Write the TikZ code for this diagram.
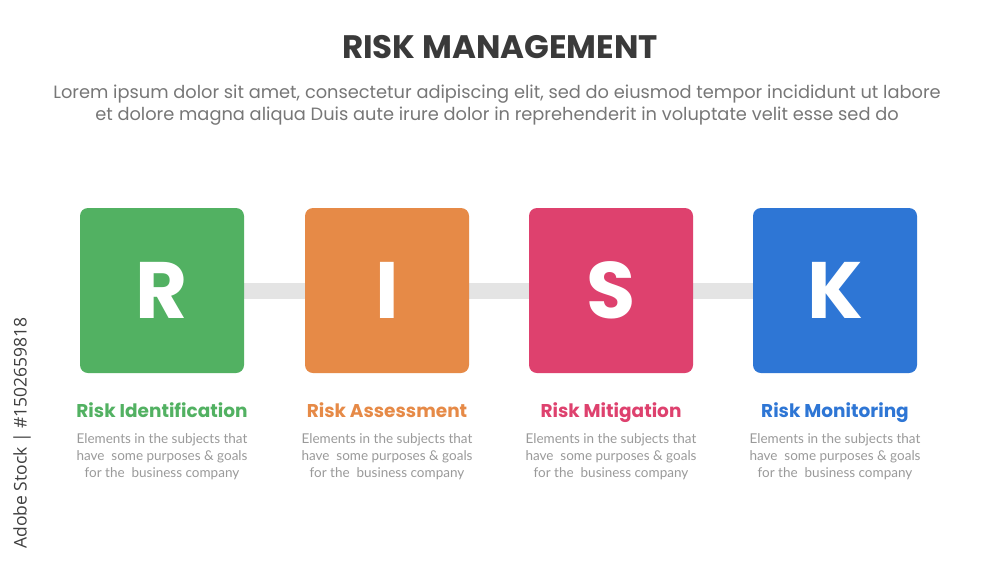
\documentclass[tikz,border=0pt]{standalone}
\usepackage{fontspec}
\setmainfont{Poppins}
\newfontfamily\lato{Lato}
\newfontfamily\opensans{Open Sans}
\definecolor{cgreen}{HTML}{52B162}
\definecolor{corange}{HTML}{E68A47}
\definecolor{cpink}{HTML}{DE416E}
\definecolor{cblue}{HTML}{2E76D5}
\definecolor{cbar}{HTML}{E4E4E4}
\definecolor{ctitle}{HTML}{3A3A3A}
\definecolor{csub}{HTML}{777777}
\definecolor{cdesc}{HTML}{9A9A9A}
\definecolor{cwm}{HTML}{3F3F3F}
\tikzset{
  letterbox/.style={fill=#1, rounded corners=8pt, minimum width=164pt, minimum height=165pt, inner sep=0pt, text=white, font=\fontsize{80}{80}\selectfont\bfseries},
  steplabel/.style={text=#1, font=\fontsize{18.5}{20}\selectfont\bfseries, inner sep=0pt, anchor=base},
  desctext/.style={text=cdesc, font=\lato\fontsize{13.5}{17}\selectfont, align=center, inner sep=0pt},
}
\begin{document}
\begin{tikzpicture}[x=1pt,y=-1pt]
\useasboundingbox[fill=white] (0,0) rectangle (1000,563);
% connector bar
\fill[cbar] (162,283) rectangle (835,299);
\node[letterbox=cgreen]  (b1) at (162,290.5) {R};
\node[letterbox=corange] (b2) at (387,290.5) {I};
\node[letterbox=cpink]   (b3) at (611,290.5) {S};
\node[letterbox=cblue]   (b4) at (835,290.5) {K};
\node[text=ctitle, font=\fontsize{32.5}{32.5}\selectfont\bfseries, inner sep=0pt] (title) at (500,47) {RISK MANAGEMENT};
\node[text=csub, font=\fontsize{17.8}{22}\selectfont, align=center, inner sep=0pt] (sub) at (497,105.5) {Lorem ipsum dolor sit amet, consectetur adipiscing elit, sed do eiusmod tempor incididunt ut labore\\et dolore magna aliqua Duis aute irure dolor in reprehenderit in voluptate velit esse sed do};
\node[steplabel=cgreen]  (l1) at (162,417) {Risk Identification};
\node[steplabel=corange] (l2) at (387,417) {Risk Assessment};
\node[steplabel=cpink]   (l3) at (611,417) {Risk Mitigation};
\node[steplabel=cblue]   (l4) at (835,417) {Risk Monitoring};
\foreach \i/\x in {1/162,2/387,3/611,4/835}{
  \node[desctext] (d\i) at (\x,457) {Elements in the subjects that\\have\ \ some purposes \& goals\\for the\ \ business company};
}
\node[rotate=90, text=cwm, font=\opensans\fontsize{17.5}{17.5}\selectfont, inner sep=0pt] (wm) at (22,433) {Adobe Stock | \#1502659818};
\end{tikzpicture}
\end{document}
